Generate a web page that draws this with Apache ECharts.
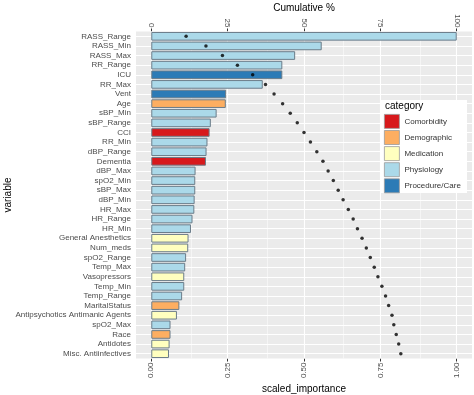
<!DOCTYPE html>
<html>
<head>
<meta charset="utf-8">
<script src="https://cdn.jsdelivr.net/npm/echarts@6/dist/echarts.min.js"></script>
<style>
html,body{margin:0;padding:0;background:#fff;}
#chart{width:474px;height:395px;}
</style>
</head>
<body>
<div id="chart"></div>
<script>
const categories = ['RASS_Range','RASS_Min','RASS_Max','RR_Range','ICU','RR_Max','Vent','Age','sBP_Min','sBP_Range','CCI','RR_Min','dBP_Range','Dementia','dBP_Max','spO2_Min','sBP_Max','dBP_Min','HR_Max','HR_Range','HR_Min','General Anesthetics','Num_meds','spO2_Range','Temp_Max','Vasopressors','Temp_Min','Temp_Range','MaritalStatus','Antipsychotics Antimanic Agents','spO2_Max','Race','Antidotes','Misc. Antiinfectives'];
const importance = [1.0,0.558,0.471,0.429,0.429,0.365,0.245,0.244,0.214,0.195,0.191,0.184,0.181,0.179,0.145,0.144,0.144,0.142,0.141,0.135,0.130,0.122,0.121,0.114,0.111,0.108,0.108,0.101,0.092,0.084,0.063,0.063,0.060,0.058];
const cumulative = [11.4,17.9,23.3,28.2,33.2,37.4,40.2,43.0,45.5,47.8,50.0,52.1,54.2,56.2,57.9,59.6,61.2,62.8,64.5,66.1,67.5,69.0,70.4,71.7,73.0,74.2,75.5,76.7,77.7,78.8,79.4,80.2,81.0,81.7];
const groups = ['Physiology','Physiology','Physiology','Physiology','Procedure/Care','Physiology','Procedure/Care','Demographic','Physiology','Physiology','Comorbidity','Physiology','Physiology','Comorbidity','Physiology','Physiology','Physiology','Physiology','Physiology','Physiology','Physiology','Medication','Medication','Physiology','Physiology','Medication','Physiology','Physiology','Demographic','Medication','Physiology','Demographic','Medication','Medication'];
const groupNames = ['Comorbidity','Demographic','Medication','Physiology','Procedure/Care'];
const groupColors = ['#d7191c','#fdae61','#ffffbf','#abd9e9','#2c7bb6'];
const xTicks = [0,0.25,0.5,0.75,1];
const xMinor = [0.125,0.375,0.625,0.875];
const topTicks = [0,25,50,75,100];

const chart = echarts.init(document.getElementById('chart'), null, {renderer:'canvas'});
const FONT = 'Liberation Sans, Arial, sans-serif';

const gridLineData = []
  .concat(xTicks.map(v => ({xAxis: v, lineStyle: {color: '#fff', width: 1.1, type: 'solid'}})))
  .concat(xMinor.map(v => ({xAxis: v, lineStyle: {color: '#fff', width: 0.5, type: 'solid'}})))
  .concat(categories.map(c => ({yAxis: c, lineStyle: {color: '#fff', width: 1.1, type: 'solid'}})));

const barSeries = groupNames.map((g, gi) => {
  const s = {
    name: g,
    type: 'bar',
    xAxisIndex: 0,
    yAxisIndex: 0,
    z: 3,
    barGap: '-100%',
    barCategoryGap: '10%',
    itemStyle: {color: groupColors[gi], borderColor: '#6b7c89', borderWidth: 1},
    emphasis: {disabled: true},
    data: importance.map((v, i) => groups[i] === g ? v : '-')
  };
  if (gi === 0) {
    s.markLine = {silent: true, symbol: ['none','none'], z: 1, zlevel: 0, label: {show: false}, animation: false, data: gridLineData};
  }
  return s;
});

const option = {
  animation: false,
  textStyle: {fontFamily: FONT},
  grid: {left: 136, right: 2, top: 31.5, bottom: 36.5, show: true, backgroundColor: '#ebebeb', borderWidth: 0, containLabel: false, outerBoundsMode: 'none'},
  xAxis: [
    {
      type: 'value', position: 'bottom', min: -0.05, max: 1.05,
      splitLine: {show: false}, axisLine: {show: false},
      axisTick: {show: true, customValues: xTicks, length: 3, lineStyle: {color: '#333'}},
      axisLabel: {customValues: xTicks, rotate: 90, fontSize: 8, color: '#4d4d4d', margin: 4, fontFamily: FONT,
        formatter: v => v.toFixed(2)},
      name: 'scaled_importance', nameLocation: 'middle', nameGap: 26, nameMoveOverlap: false,
      nameTextStyle: {fontSize: 10, color: '#000', fontFamily: FONT}
    },
    {
      type: 'value', position: 'top', min: -5, max: 105,
      splitLine: {show: false}, axisLine: {show: false},
      axisTick: {show: true, customValues: topTicks, length: 3, lineStyle: {color: '#333'}},
      axisLabel: {customValues: topTicks, rotate: 90, fontSize: 8, color: '#4d4d4d', margin: 4, fontFamily: FONT},
      name: 'Cumulative %', nameLocation: 'middle', nameGap: 18, nameMoveOverlap: false,
      nameTextStyle: {fontSize: 10, color: '#000', fontFamily: FONT}
    }
  ],
  yAxis: {
    type: 'category', data: categories, inverse: true,
    axisLine: {show: false},
    axisTick: {show: true, alignWithLabel: true, length: 3, lineStyle: {color: '#333'}},
    axisLabel: {fontSize: 8, color: '#4d4d4d', margin: 5, interval: 0, fontFamily: FONT},
    splitLine: {show: false},
    name: 'variable', nameLocation: 'middle', nameGap: 123, nameRotate: 90, nameMoveOverlap: false,
    nameTextStyle: {fontSize: 10, color: '#000', fontFamily: FONT}
  },
  legend: {
    data: groupNames, orient: 'vertical', left: 384, top: 114,
    itemWidth: 15, itemHeight: 14, itemGap: 1.3, padding: 0,
    selectedMode: false, z: 6, icon: 'rect',
    itemStyle: {borderColor: '#9a9a9a', borderWidth: 0.8},
    textStyle: {fontSize: 8, color: '#333', fontFamily: FONT}
  },
  graphic: [
    {type: 'rect', left: 380, top: 100, z: 5, shape: {width: 87, height: 93}, style: {fill: '#fff'}},
    {type: 'text', left: 385, top: 101, z: 6, style: {text: 'category', fontSize: 10, fill: '#000', fontFamily: FONT}}
  ],
  series: barSeries.concat([
    {
      type: 'scatter', name: 'cumulative', xAxisIndex: 1, yAxisIndex: 0, z: 4,
      symbolSize: 3.5, itemStyle: {color: '#000'}, silent: true,
      data: cumulative.map((v, i) => [v, categories[i]])
    }
  ])
};
chart.setOption(option);
</script>
</body>
</html>
